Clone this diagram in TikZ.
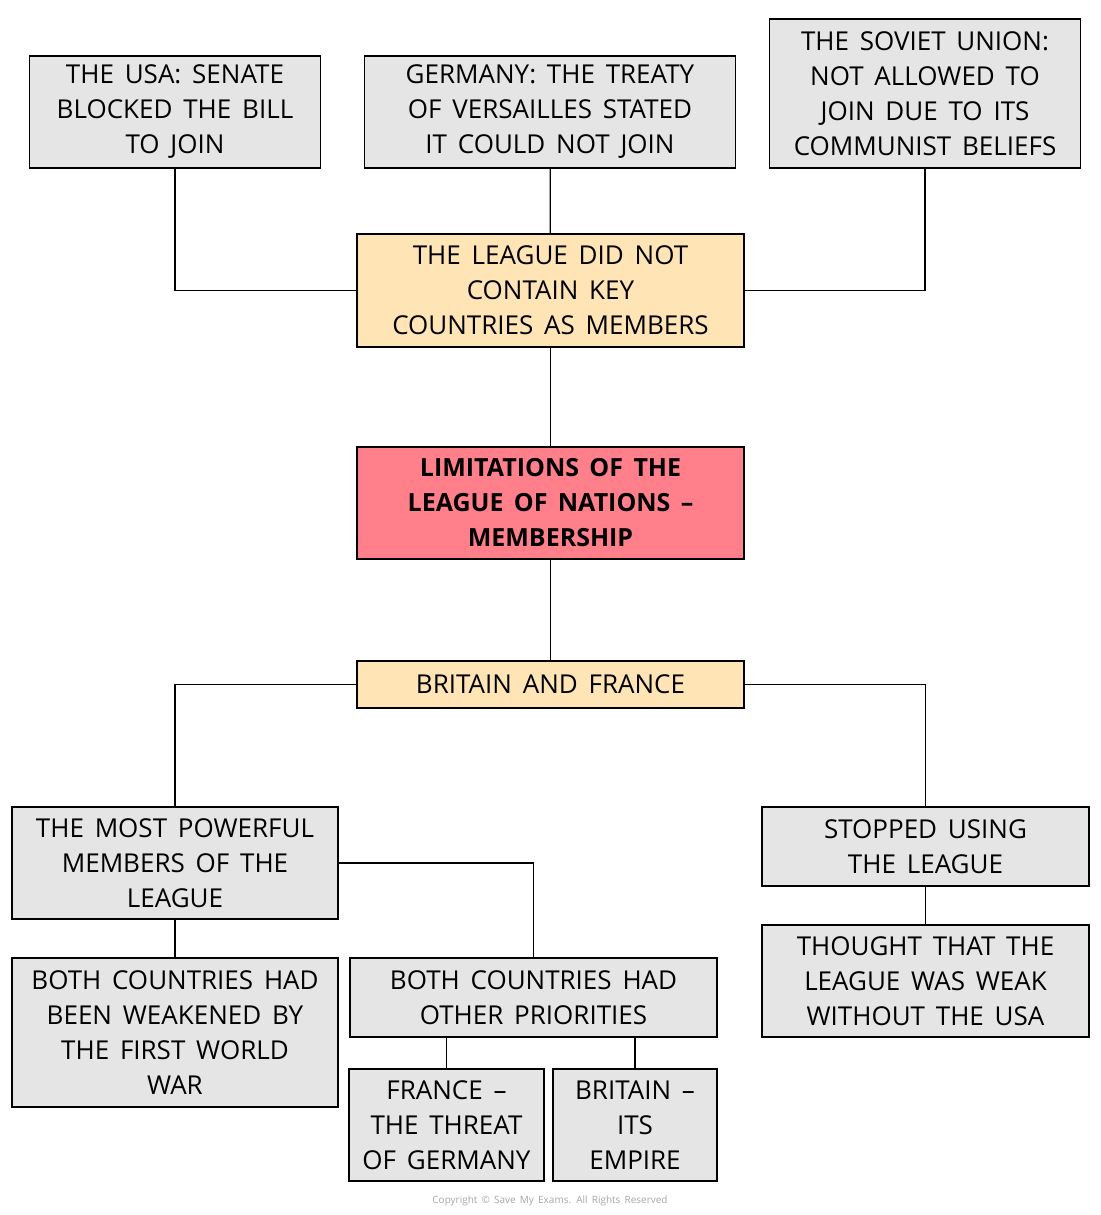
\documentclass[tikz,border=0pt]{standalone}
\usepackage{fontspec}
\setmainfont{Open Sans}[WordSpace=1.6]
\definecolor{peach}{HTML}{FFE5B5}
\definecolor{pinkred}{HTML}{FF7F8A}
\definecolor{lgray}{HTML}{E5E5E5}
\begin{document}
\begin{tikzpicture}[x=1pt,y=-1pt,
  box/.style={draw=black,line width=1.2pt,fill=lgray,align=center,inner sep=0pt,
    font=\fontsize{26}{35}\selectfont,text=black},
  yel/.style={box,fill=peach},
  red/.style={box,fill=pinkred,font=\fontsize{25}{35}\selectfont\bfseries},
  ln/.style={line width=1.2pt}]
\useasboundingbox (0,0) rectangle (1100,1215);
\node[box,minimum width=291,minimum height=112] (usa) at (175,112) {THE USA: SENATE\\BLOCKED THE BILL\\TO JOIN};
\node[box,minimum width=371,minimum height=112] (ger) at (550,112) {GERMANY: THE TREATY\\OF VERSAILLES STATED\\IT COULD NOT JOIN};
\node[box,minimum width=311,minimum height=149] (sov) at (925,93.5) {THE SOVIET UNION:\\NOT ALLOWED TO\\JOIN DUE TO ITS\\COMMUNIST BELIEFS};
\node[yel,minimum width=387,minimum height=113] (lea) at (550.5,290.5) {THE LEAGUE DID NOT\\CONTAIN KEY\\COUNTRIES AS MEMBERS};
\node[red,minimum width=387,minimum height=112] (lim) at (550.5,503) {LIMITATIONS OF THE\\LEAGUE OF NATIONS --\\MEMBERSHIP};
\node[yel,minimum width=387,minimum height=47] (bf) at (550.5,684.5) {BRITAIN AND FRANCE};
\node[box,minimum width=326,minimum height=112] (most) at (175,863) {THE MOST POWERFUL\\MEMBERS OF THE\\LEAGUE};
\node[box,minimum width=327,minimum height=79] (stop) at (925.5,846.5) {STOPPED USING\\THE LEAGUE};
\node[box,minimum width=327,minimum height=112] (tho) at (925.5,981) {THOUGHT THAT THE\\LEAGUE WAS WEAK\\WITHOUT THE USA};
\node[box,minimum width=326,minimum height=149] (wea) at (175,1032.5) {BOTH COUNTRIES HAD\\BEEN WEAKENED BY\\THE FIRST WORLD\\WAR};
\node[box,minimum width=367,minimum height=79] (pri) at (533.5,997.5) {BOTH COUNTRIES HAD\\OTHER PRIORITIES};
\node[box,minimum width=195,minimum height=112] (fra) at (446.5,1125) {FRANCE --\\THE THREAT\\OF GERMANY};
\node[box,minimum width=164,minimum height=112] (bri) at (635,1125) {BRITAIN --\\ITS\\EMPIRE};
\node[text=gray!70,font=\fontsize{10}{12}\selectfont] (copy) at (550,1201) {Copyright \copyright\ Save My Exams. All Rights Reserved};
\draw[ln] (usa.south) |- (lea.west);
\draw[ln] (sov.south) |- (lea.east);
\draw[ln] (ger) -- (lea);
\draw[ln] (lea) -- (lim);
\draw[ln] (lim) -- (bf);
\draw[ln] (bf.west) -| (most.north);
\draw[ln] (bf.east) -| (stop.north);
\draw[ln] (most.east) -| (pri.north);
\draw[ln] (most) -- (wea);
\draw[ln] (stop) -- (tho);
\draw[ln] (fra.north) -- (fra.north |- pri.south);
\draw[ln] (bri.north) -- (bri.north |- pri.south);
\end{tikzpicture}
\end{document}
